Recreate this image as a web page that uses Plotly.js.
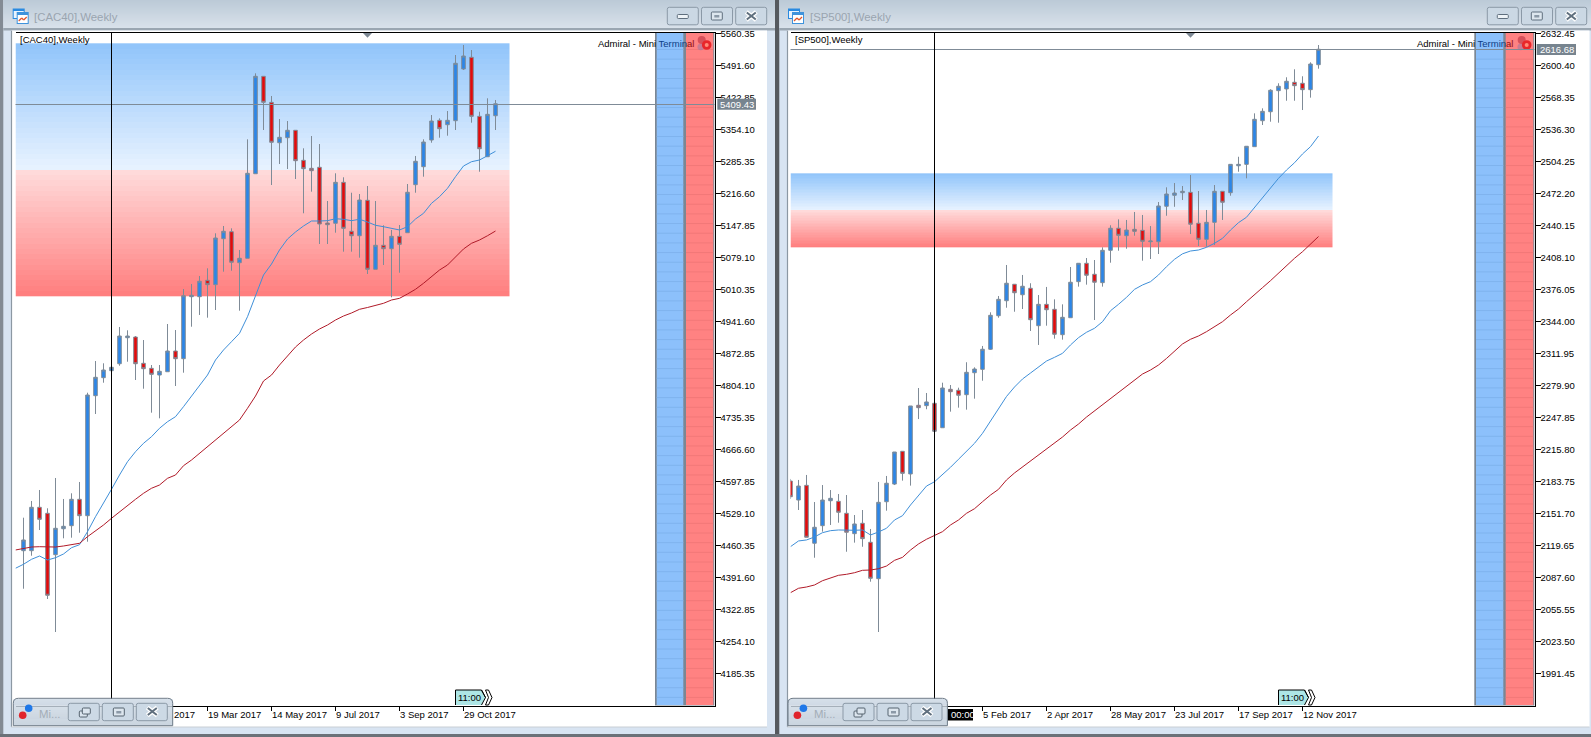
<!DOCTYPE html>
<html><head><meta charset="utf-8">
<style>html,body{margin:0;padding:0;background:#d7e3f0;overflow:hidden}#g{width:1591px;height:737px}</style>
<script src="https://cdn.plot.ly/plotly-3.0.1.min.js"></script></head>
<body><div id="g"></div>
<script>
// ---------- data ----------
const weeks=['2016-08-21','2016-08-28','2016-09-04','2016-09-11','2016-09-18','2016-09-25','2016-10-02','2016-10-09','2016-10-16','2016-10-23','2016-10-30','2016-11-06','2016-11-13','2016-11-20','2016-11-27','2016-12-04','2016-12-11','2016-12-18','2016-12-25','2017-01-01','2017-01-08','2017-01-15','2017-01-22','2017-01-29','2017-02-05','2017-02-12','2017-02-19','2017-02-26','2017-03-05','2017-03-12','2017-03-19','2017-03-26','2017-04-02','2017-04-09','2017-04-16','2017-04-23','2017-04-30','2017-05-07','2017-05-14','2017-05-21','2017-05-28','2017-06-04','2017-06-11','2017-06-18','2017-06-25','2017-07-02','2017-07-09','2017-07-16','2017-07-23','2017-07-30','2017-08-06','2017-08-13','2017-08-20','2017-08-27','2017-09-03','2017-09-10','2017-09-17','2017-09-24','2017-10-01','2017-10-08','2017-10-15','2017-10-22','2017-10-29','2017-11-05','2017-11-12','2017-11-19','2017-11-26'];

const cacOpen=[4449.2,4449.2,4542.4,4529.5,4440.6,4496.4,4502.9,4559.6,4524.4,4782.2,4820.9,4835.9,4850.9,4906.8,4908.3,4851.8,4841,4826.6,4833.7,4878.2,4861.7,4994.9,4994.9,5030.1,5020.7,5119.5,5134.5,5067.9,5077.4,5259.1,5468.4,5412.5,5325.7,5336.5,5352.4,5287.9,5270.7,5272.9,5153.2,5152.6,5240.6,5135.4,5125.9,5202,5053.7,5105.3,5098,5124.6,5132.4,5235.5,5274.2,5331.5,5373.8,5364.4,5373,5484.1,5509.2,5382.4,5295.6,5383.7];
const cacHigh=[4520.1,4556,4579.6,4540.3,4605.4,4560.3,4572.5,4596.8,4788.6,4856.7,4851.8,4848.1,4929.8,4922.7,4910.4,4901.8,4848.1,4848.1,4936.2,4923.3,5011.4,5022.2,5039.3,5055.9,5131.1,5146.8,5141.8,5095.2,5333,5474.8,5468.4,5426.1,5376.6,5372.3,5352.4,5313.7,5340.1,5322.9,5200.5,5260,5251.4,5218.3,5215.5,5232.7,5200.5,5148.3,5138.2,5148.9,5237,5297.2,5333,5385.2,5378.1,5393.8,5514.1,5535.6,5524.9,5392.3,5421.1,5417.5];
const cacLow=[4367.5,4438.4,4493.6,4345.4,4274.5,4475.8,4477.1,4487.8,4468.5,4742.9,4810.1,4833.1,4846.6,4855.2,4815.9,4797.2,4745.7,4733.6,4833.7,4803,4831.6,4930.4,4955.6,4949.8,4966.3,5048.6,5050.7,4964.8,5077.4,5259.1,5353,5234.8,5280,5269.2,5247.7,5174.1,5220.5,5108.1,5108.1,5132.4,5091.6,5091.6,5078.7,5043.6,5053.7,5063,4993.6,5046.4,5132.4,5218.3,5252.7,5325.7,5336.5,5340.8,5353,5481.9,5368.7,5263.4,5295.6,5353];
const cacClose=[4472.2,4542.4,4516.6,4353.4,4497.3,4501.6,4559.6,4524.4,4783.7,4821.7,4837.4,4843.2,4910.4,4910.4,4850.9,4840.2,4828.1,4834.6,4878.2,4861.7,4997,4997.9,5028,5020.7,5121,5135.4,5068.8,5077.4,5260,5468.4,5412.5,5326.6,5337.3,5352.4,5287.1,5269.9,5265.6,5151.1,5149.6,5240.6,5141.8,5125.9,5202.6,5053.7,5105.3,5098,5124.6,5107.4,5219.2,5285.8,5327.2,5372.3,5355.8,5373.8,5496.3,5512,5382.4,5312.8,5386.7,5409.43];
const cacMaFast=[4411.4,4420,4430.7,4437.8,4429.2,4434.1,4442.1,4455.6,4462.1,4490,4522.2,4551,4581.1,4611.8,4640.4,4661.9,4679.9,4694.1,4712.2,4726.3,4737.1,4758.6,4781.5,4805.2,4826.6,4858.9,4880.4,4898.2,4916.2,4951.9,4998.5,5041.5,5065.1,5095.2,5118.8,5133.9,5146.8,5157.5,5157.5,5158.2,5162.4,5161.2,5158.2,5161.2,5155.4,5148.3,5145.3,5141,5138.2,5145.3,5161.8,5174,5195.5,5209.7,5227.8,5252.7,5275.7,5284.9,5288.6,5297.8,5307.3];
const cacMaSlow=[4450.7,4454.3,4457.1,4457.8,4457.1,4457.1,4459.3,4462.9,4465.1,4479.3,4491.5,4504.4,4518.8,4533,4547.4,4559.6,4572.5,4583.3,4590.3,4604.7,4611.8,4631.8,4644,4658.4,4672.6,4688.5,4702.7,4717.1,4730,4755.1,4781.5,4813.8,4826.6,4848.1,4867.5,4886.8,4901.8,4914.7,4925.5,4934.1,4944.8,4953.4,4959.9,4967.8,4971.7,4976,4980.7,4987.8,4991.4,5000.7,5010.8,5023.7,5037.8,5052.2,5063,5080.8,5097.4,5109.6,5116.7,5125.9,5136];
const cacTicks=['5560.35','5491.60','5422.85','5354.10','5285.35','5216.60','5147.85','5079.10','5010.35','4941.60','4872.85','4804.10','4735.35','4666.60','4597.85','4529.10','4460.35','4391.60','4322.85','4254.10','4185.35'];
const cacZone=[4996.4,5269.2,5539.3];
const cacLast=5409.43;
const cacDates=['2016-11-27','2017-01-22','2017-03-19','2017-05-14','2017-07-09','2017-09-03','2017-10-29'];
const cacDateLabels=['19 Mar 2017','14 May 2017','9 Jul 2017','3 Sep 2017','29 Oct 2017'];

const spOpen=[2184.25,2165.2,2179.9,2121.9,2139.5,2164.5,2163.9,2151.9,2131.5,2141.9,2122.9,2086.4,2163.5,2181.2,2214,2191.3,2260.1,2259.7,2262.1,2237.6,2276.1,2275.1,2270.7,2292.7,2296.1,2316.2,2349.8,2364.8,2381.3,2370.8,2377.3,2339.8,2361.2,2356.2,2330.8,2347.8,2383.9,2402.3,2391.3,2382.9,2415.3,2437.4,2429.9,2436.3,2435.3,2423.9,2423.9,2459.4,2470.4,2473,2473.4,2442.4,2426.3,2443.3,2474.4,2473,2500,2501.4,2519.1,2545.1,2554.1,2575.2,2576.9,2583.6,2582.6,2576.2,2601.2];
const spHigh=[2186.3,2185.3,2190.3,2163.2,2180.2,2175.2,2171.2,2170.2,2150.2,2155.2,2136.2,2183.3,2189.3,2213.3,2214,2259.4,2277.4,2272.4,2262.1,2282.7,2280.4,2277.7,2303.2,2298.1,2319.5,2353.2,2369.5,2400.6,2381.3,2390.6,2382.3,2370.5,2378.6,2366.2,2361.2,2398.6,2402.3,2407.6,2405.6,2418.3,2440.4,2446.3,2445.7,2453.7,2450.7,2439.6,2463.7,2478.4,2482.7,2479.7,2490.7,2474.7,2455.7,2480.7,2474.7,2501.7,2509,2519.5,2552.5,2557.5,2576.6,2582.6,2588.6,2596.6,2589.6,2603.6,2620.9];
const spLow=[2166.3,2155.2,2127.9,2107.4,2133.5,2140.2,2142.5,2113.4,2122.5,2118.4,2083.4,2033,2154.5,2180.2,2184.6,2179.6,2246.3,2256.1,2233.6,2237.6,2253.7,2257.7,2255.7,2266.7,2284.7,2315.5,2347.8,2357.8,2353.8,2356.5,2334.5,2320.5,2339.8,2326.8,2325.8,2347.8,2378.9,2380.9,2345.5,2378.9,2402.9,2414.9,2416.9,2429.9,2404.9,2406.6,2411.6,2449.9,2458.9,2465.7,2431.6,2419.6,2418.9,2420.6,2445.7,2470,2494,2487.4,2519.1,2540.8,2544.1,2543.1,2565.1,2565.1,2555.8,2568.2,2597.2];
const spClose=[2168.5,2179.2,2127.9,2137.9,2165.2,2166.9,2152.9,2132.9,2141.2,2126.5,2086.8,2162.9,2182,2213.3,2191.9,2259.4,2257.7,2263.4,2234,2277.4,2273.7,2270.1,2293.1,2296.4,2316.2,2350.2,2366.2,2382.3,2372.8,2379.3,2345.8,2361.2,2355.8,2331.2,2348.2,2383.3,2402.3,2390.3,2383.3,2415.3,2437.4,2430.3,2435.6,2434.3,2424.3,2424.6,2459.7,2471.7,2472.7,2474.4,2441.4,2426.3,2443.3,2474.4,2463.4,2501.4,2501.4,2519.5,2546.5,2554.5,2575.6,2579.6,2584.6,2580.2,2576.2,2601.9,2616.68];
const spMaFast=[2118.5,2124.2,2125.2,2128.2,2132.5,2134.5,2135.2,2134.9,2134.9,2135.2,2130.2,2133.2,2136.9,2145.2,2149.5,2160.2,2169.5,2179.2,2183.5,2190.3,2198,2206,2213.6,2222,2232,2244.6,2257.1,2268.9,2278.4,2286.4,2292.4,2298.7,2304.4,2308.1,2312.1,2320.5,2327.8,2333.2,2337.2,2343.8,2354.8,2361.2,2368.2,2376.2,2380.6,2383.9,2390.6,2398.9,2406.3,2411.8,2414.6,2415.6,2418.3,2422.3,2427.3,2435.6,2443,2448.4,2458.4,2468,2477.4,2487.4,2495.7,2503,2511.8,2519.1,2529.8];
const spMaSlow=[2072.4,2076.8,2078.1,2080.1,2084.4,2086.8,2089.8,2090.8,2092.4,2094.8,2095.1,2096.4,2099.1,2104.8,2107.8,2115.1,2121.2,2125.9,2129.9,2133.5,2140.2,2145.2,2151.9,2156.5,2163.5,2170.2,2175.9,2185.3,2192.3,2198.3,2204.3,2210.3,2216.3,2222.3,2228.3,2235.3,2241.3,2248.3,2254.4,2260.9,2267.4,2273.4,2279.4,2285.4,2291.4,2295.4,2300.4,2307,2314.5,2321.5,2326.2,2329.5,2333.8,2338.8,2343.8,2350.5,2356.5,2363.8,2370.5,2377.9,2384.9,2392.3,2400.6,2407.3,2413.9,2421.3,2429.1];
const spTicks=['2632.45','2600.40','2568.35','2536.30','2504.25','2472.20','2440.15','2408.10','2376.05','2344.00','2311.95','2279.90','2247.85','2215.80','2183.75','2151.70','2119.65','2087.60','2055.55','2023.50','1991.45'];
const spZone=[2418.6,2455.7,2492.4];
const spLast=2616.68;
const spDates=['2016-12-11','2017-02-05','2017-04-02','2017-05-28','2017-07-23','2017-09-17','2017-11-12'];
const spDateLabels=['5 Feb 2017','2 Apr 2017','28 May 2017','23 Jul 2017','17 Sep 2017','12 Nov 2017'];
const crossDate='2016-12-25';

// ---------- pixel helpers ----------
const W=1591,H=737;
const X=p=>p/W, Y=p=>1-p/H;
const FONT="'Liberation Sans','DejaVu Sans',sans-serif";
const FS=9.5;
const GRID={top:32.5,bottom:705.5,wick:'#7f8b97',blue:'#2a86ea',red:'#e40a0a',maBlue:'#3f8fd8',maRed:'#b01a28'};
const shapes=[],annos=[];
function rect(x0,y0,x1,y1,fill,layer,line){shapes.push({type:'rect',xref:'paper',yref:'paper',x0:X(x0),x1:X(x1),y0:Y(y1),y1:Y(y0),fillcolor:fill,line:line?{color:line,width:1}:{width:0},layer:layer||'below'});}
function hex(c){return [1,3,5].map(i=>parseInt(c.substr(i,2),16));}
function grad(x0,y0,x1,y1,c0,c1,layer){const a=hex(c0),b=hex(c1),n=Math.max(1,Math.round(y1-y0));
  for(let i=0;i<n;i++){const t=n>1?i/(n-1):0;const c=a.map((v,j)=>Math.round(v+(b[j]-v)*t));
    rect(x0,y0+(y1-y0)*i/n,x1,y0+(y1-y0)*(i+1)/n,`rgb(${c})`,layer);}}
function rr(x0,y0,x1,y1,r,fill,line,layer,top){const a=X,b=Y;
  const rb=top?0:r;
  const d=`M${a(x0+r)},${b(y0)}L${a(x1-r)},${b(y0)}Q${a(x1)},${b(y0)} ${a(x1)},${b(y0+r)}L${a(x1)},${b(y1-rb)}Q${a(x1)},${b(y1)} ${a(x1-rb)},${b(y1)}L${a(x0+rb)},${b(y1)}Q${a(x0)},${b(y1)} ${a(x0)},${b(y1-rb)}L${a(x0)},${b(y0+r)}Q${a(x0)},${b(y0)} ${a(x0+r)},${b(y0)}Z`;
  shapes.push({type:'path',xref:'paper',yref:'paper',path:d,fillcolor:fill,line:{color:line,width:1},layer:layer||'below'});}
function seg(x0,y0,x1,y1,color,w,layer){shapes.push({type:'line',xref:'paper',yref:'paper',x0:X(x0),x1:X(x1),y0:Y(y0),y1:Y(y1),line:{color,width:w},layer:layer||'below'});}
function circ(cx,cy,r,fill,layer,op){shapes.push({type:'circle',xref:'paper',yref:'paper',x0:X(cx-r),x1:X(cx+r),y0:Y(cy+r),y1:Y(cy-r),fillcolor:fill,opacity:op==null?1:op,line:{width:0},layer:layer||'below'});}
function txt(x,y,text,size,color,anchor){annos.push({xref:'paper',yref:'paper',x:X(x),y:Y(y),text,showarrow:false,xanchor:anchor||'left',yanchor:'middle',borderpad:0,font:{size,color,family:FONT}});}

function buttons(x,y,w,gap,layer){ // three window buttons: minimise, restore, close
  const xs=[x,x+w+gap,x+2*(w+gap)];
  xs.forEach(v=>{rr(v,y,v+w,y+17.5,2,'#cbd8e4','#8b99a7',layer);});
}
function closeGlyph(cx,cy,layer){seg(cx-5,cy-4,cx+5,cy+4,'#ffffff',4.5,layer);seg(cx-5,cy+4,cx+5,cy-4,'#ffffff',4.5,layer);seg(cx-4.5,cy-3.5,cx+4.5,cy+3.5,'#5f6f7e',2,layer);seg(cx-4.5,cy+3.5,cx+4.5,cy-3.5,'#5f6f7e',2,layer);}
function windowChrome(x0,x1,title,btnX,iconX,titleX){
  grad(x0,0,x1,28,'#bccad7','#d8e1ea');
  rect(x0,28,x1,30.5,'#9aa6b1');
  rect(iconX,8.5,iconX+12,19,'#2a8ae0');rect(iconX+1,11,iconX+11,18,'#eaf4fd');
  rect(iconX+4,12,iconX+16,24,'#3f93dc');rect(iconX+5,15,iconX+15,23,'#ffffff');
  seg(iconX+6,21,iconX+9,18,'#e2552a',1.2);seg(iconX+9,18,iconX+11,20,'#e2552a',1.2);seg(iconX+11,20,iconX+14,17,'#e2552a',1.2);
  txt(titleX,17,title,11.4,'#9aa5b0','left');
  buttons(btnX,7.3,31,3.2);
  rr(btnX+10,14.5,btnX+21,18.5,1,'#eef3f7','#5f6f7e');
  rr(btnX+44,12,btnX+55,20,1,'#dde6ee','#5f6f7e');rect(btnX+47,15,btnX+52,17.5,'#8b99a7');
  closeGlyph(btnX+84,16);
}
function miniWindow(x){
  grad(x,699,x+159.4,725.5,'#d5dfe9','#b9c7d5','above');
  rr(x,698.3,x+159.4,725.7,5,'rgba(0,0,0,0)','#6d7a87','above',true);
  circ(x+15.4,708.3,3.8,'#1f78e8','above');circ(x+9.4,715.3,3.8,'#e0242c','above');
  txt(x+25,714,'Mi...',11.4,'#a3adb7','left');
  const bx=x+55;
  [0,34,68].forEach(o=>rr(bx+o,703.3,bx+o+31,720.7,2,'#ccd9e5','#8b99a7','above'));
  rr(bx+11,711,bx+19,717,1,'#dbe5ee','#55636f','above');rr(bx+14,708,bx+22,714,1,'#dbe5ee','#55636f','above');
  rr(bx+45,708,bx+56,716,1,'#dde6ee','#55636f','above');rect(bx+48,711,bx+53,713.5,'#8b99a7','above');
  closeGlyph(bx+84,711.5,'above');
}
function sidePanels(bx0,bx1,rx0,rx1){
  rect(bx0-1.7,32.5,rx1+1,705.5,'#7b8794');
  rect(bx0,33,bx1,705,'#8cc0fb');rect(rx0,33,rx1,705,'#ff8282');
  for(let y=49.5;y<705;y+=9.67){seg(bx0,y,bx1,y,'#7fb3ee',1);seg(rx0,y,rx1,y,'#f27878',1);}
}
function logo(cx,cy){
  circ(cx-5,cy-5,4,'#c9404c','below',0.75);circ(cx-6,cy+2,3.2,'#b0789a','below',0.7);
  circ(cx,cy,4.8,'#e8262a');circ(cx,cy,2,'#ff8a78');
}
function brand(cy,bx0){
  annos.push({xref:'paper',yref:'paper',x:X(bx0-60),y:Y(cy),xanchor:'left',yanchor:'middle',showarrow:false,borderpad:0,
    text:'Admiral - Mini <span style="color:#0c3f86">Termin</span><span style="color:#8f1010">al</span>',font:{size:FS,color:'#000',family:FONT}});
}
function priceBox(x0,x1,price,py){
  rect(x0,py-5.5,x1,py+5.5,'#77848f','above');
  txt(x0+2,py,price.toFixed(2),FS,'#fff','left');
}
function timeMarker(x){
  shapes.push({type:'path',xref:'paper',yref:'paper',path:`M${X(x)},${Y(705)}L${X(x)},${Y(690)}L${X(x+26)},${Y(690)}L${X(x+30)},${Y(697.5)}L${X(x+26)},${Y(705)}`,fillcolor:'#ade6e6',line:{color:'#000',width:1},layer:'above'});
  seg(x+26,690,x+30,697.5,'#000',1,'above');
  shapes.push({type:'path',xref:'paper',yref:'paper',path:`M${X(x+30)},${Y(690)}L${X(x+33)},${Y(690)}L${X(x+36.5)},${Y(697.5)}L${X(x+33)},${Y(705)}L${X(x+30)},${Y(705)}L${X(x+33)},${Y(697.5)}Z`,fillcolor:'#ffffff',line:{color:'#000',width:1},layer:'above'});
  txt(x+1.5,697.5,'11:00',FS,'#000');
}

// ---------- window furniture ----------
rect(0,0,W,H,'#d8e4f2');
rect(0,0,3.3,H,'#838b94');
rect(775,0,779.3,H,'#55595e');
rect(0,734,W,H,'#6b7178');
windowChrome(3.3,775,'[CAC40],Weekly',667.3,12.7,33.3);
windowChrome(779.3,W,'[SP500],Weekly',1487.3,788,809);
rect(11,30.5,767,727,'#ffffff');seg(11.5,30.5,11.5,727,'#8c98a3',1.2);seg(11,727,767,727,'#c8ced4',1);
rect(787,30.5,1589.5,727,'#ffffff');seg(787.5,30.5,787.5,727,'#8c98a3',1.2);seg(787,727,1589.5,727,'#c8ced4',1);
sidePanels(656.7,683.3,686,713.3);
sidePanels(1476,1503.3,1505.7,1533.3);
logo(706.7,45);logo(1526.7,45);

// ---------- charts ----------
const WEEK=7*864e5, PX=8;
function dateAt(px,x0,d0){return new Date(Date.parse(d0+'T00:00:00Z')+(px-x0)/PX*WEEK).toISOString().replace('T',' ').replace('Z','');}
function priceRange(ticks){const a=parseFloat(ticks[0]),s=(a-parseFloat(ticks[1]))/32;return [a-(GRID.bottom-33.5)*s,a+(33.5-GRID.top)*s];}
function zoneTrace(xa,ya,d0,d1,zone){
  const ys=[],z=[];const n=24;
  for(let i=0;i<=n;i++)ys.push(zone[0]+(zone[1]-zone[0])*i/n);
  for(let i=1;i<=n;i++)ys.push(zone[1]+(zone[2]-zone[1])*i/n);
  for(let i=0;i<2*n;i++)z.push([(i+0.5)/(2*n)]);
  return {type:'heatmap',xaxis:xa,yaxis:ya,x:[d0,d1],y:ys,z:z,zmin:0,zmax:1,showscale:false,hoverinfo:'skip',
    colorscale:[[0,'#ff7d7d'],[0.5,'#ffdcdc'],[0.5,'#e8f3ff'],[1,'#90c4fa']]};
}
function candle(xa,ya,x,o,h,l,c){return {type:'candlestick',xaxis:xa,yaxis:ya,x,open:o,high:h,low:l,close:c,whiskerwidth:0,hoverinfo:'skip',
  increasing:{fillcolor:GRID.blue,line:{color:GRID.wick,width:1}},decreasing:{fillcolor:GRID.red,line:{color:GRID.wick,width:1}}};}
function ma(xa,ya,x,y,color){return {type:'scatter',mode:'lines',xaxis:xa,yaxis:ya,x,y,line:{color,width:1},hoverinfo:'skip'};}

const cacX=weeks.slice(7), cacMaX=weeks.slice(6);
const L={a:15.5,b:714.5,x0:23.5,d0:'2016-10-09'};
const R={a:790.5,b:1534.5,x0:790.5,d0:'2016-08-21'};
const traces=[
  zoneTrace('x','y',dateAt(L.a,L.x0,L.d0),dateAt(509,L.x0,L.d0),cacZone),
  candle('x','y',cacX,cacOpen,cacHigh,cacLow,cacClose),
  ma('x','y',cacMaX,cacMaFast,GRID.maBlue),
  ma('x','y',cacMaX,cacMaSlow,GRID.maRed),
  zoneTrace('x2','y2',dateAt(R.a,R.x0,R.d0),dateAt(1332,R.x0,R.d0),spZone),
  candle('x2','y2',weeks,spOpen,spHigh,spLow,spClose),
  ma('x2','y2',weeks,spMaFast,GRID.maBlue),
  ma('x2','y2',weeks,spMaSlow,GRID.maRed)
];
function xAxis(P,tv,anchor){return {domain:[X(P.a),X(P.b)],range:[dateAt(P.a,P.x0,P.d0),dateAt(P.b,P.x0,P.d0)],type:'date',anchor,
  rangeslider:{visible:false},showgrid:false,zeroline:false,showline:true,mirror:true,linecolor:'#000',linewidth:1,
  tickmode:'array',tickvals:tv,ticks:'outside',ticklen:4,tickwidth:1,tickcolor:'#000',showticklabels:false,fixedrange:true};}
function yAxis(ticks,anchor){return {domain:[Y(GRID.bottom),Y(GRID.top)],range:priceRange(ticks),anchor,side:'right',showgrid:false,zeroline:false,showline:true,linecolor:'#000',linewidth:1,
  tickmode:'array',tickvals:ticks.map(Number),ticktext:ticks,ticks:'outside',ticklen:5,tickwidth:1,tickcolor:'#000',ticklabelstandoff:-2,
  tickfont:{size:FS,color:'#000',family:FONT},fixedrange:true};}

// x labels, left-aligned on their ticks as in the terminal
function dateLabels(dates,labels,xref){labels.forEach((t,i)=>annos.push({xref,yref:'paper',x:dates[i],y:Y(714.6),text:t,showarrow:false,xanchor:'left',yanchor:'middle',borderpad:0,xshift:-1,font:{size:FS,color:'#000',family:FONT}}));}
dateLabels(cacDates.slice(2),cacDateLabels,'x');
dateLabels(spDates.slice(1),spDateLabels,'x2');
txt(172.8,714.6,'2017',FS,'#000');
rect(948,709,973,720.5,'#000000','above');
txt(950,714.6,'00:00',FS,'#ffffff');

// crosshair and last price lines
[['x','y',104.5,L],['x2','y2',49.5,R]].forEach(([xa,ya,py,P])=>{
  seg(P.a,py,P.b,py,'#7f8b97',1,'above');
  shapes.push({type:'line',xref:xa,yref:'paper',x0:crossDate,x1:crossDate,y0:Y(GRID.bottom),y1:Y(GRID.top),line:{color:'#000',width:1},layer:'above'});
});
// shift markers
[[367.5],[1190.5]].forEach(([x])=>shapes.push({type:'path',xref:'paper',yref:'paper',path:`M${X(x-4.5)},${Y(33)}L${X(x+4.5)},${Y(33)}L${X(x)},${Y(37.8)}Z`,fillcolor:'#7c8894',line:{width:0},layer:'above'}));

priceBox(717.3,756,cacLast,104.3);
priceBox(1536.7,1576,spLast,49.5);
txt(19.3,39.7,'[CAC40],Weekly',FS,'#000','left');
txt(794.3,39.7,'[SP500],Weekly',FS,'#000','left');
brand(43.5,656.7);
brand(43.5,1476);
timeMarker(455.5);
timeMarker(1278.5);
miniWindow(13.3);
miniWindow(788);

Plotly.newPlot('g',traces,{
  width:W,height:H,margin:{l:0,r:0,t:0,b:0,pad:0},showlegend:false,hovermode:false,
  paper_bgcolor:'#d8e4f2',plot_bgcolor:'rgba(0,0,0,0)',boxgap:0.36,boxmode:'overlay',
  xaxis:xAxis(L,cacDates,'y'),yaxis:yAxis(cacTicks,'x'),
  xaxis2:xAxis(R,spDates,'y2'),yaxis2:yAxis(spTicks,'x2'),
  shapes,annotations:annos
},{displayModeBar:false,staticPlot:true});
</script></body></html>
